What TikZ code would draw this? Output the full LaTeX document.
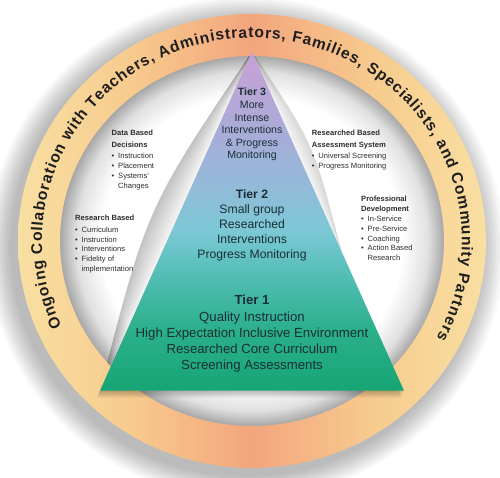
\documentclass[tikz,border=0pt]{standalone}
\usepackage{fontspec}
\setmainfont{Liberation Sans}
\usetikzlibrary{decorations.text}
\definecolor{ringY}{HTML}{F9DFA2}
\definecolor{ringY2}{HTML}{F7CB8E}
\definecolor{ringO}{HTML}{F3A57E}
\definecolor{ringtext}{HTML}{1E1E1E}
\definecolor{tiertext}{HTML}{1B2E36}
\definecolor{sidetext}{HTML}{2E2E2E}
\definecolor{g1}{HTML}{17A574}
\definecolor{g2}{HTML}{2BB08A}
\definecolor{g3}{HTML}{4DBCB0}
\definecolor{b1}{HTML}{7CC8D6}
\definecolor{b2}{HTML}{95B9D8}
\definecolor{p1}{HTML}{A8ACD8}
\definecolor{p2}{HTML}{C4A2D6}
\pgfdeclarehorizontalshading{ringshade}{100bp}{color(0bp)=(ringY); color(25bp)=(ringY); color(37bp)=(ringY2); color(50bp)=(ringO); color(63bp)=(ringY2); color(75bp)=(ringY); color(100bp)=(ringY)}
\pgfdeclareverticalshading{trishade}{100bp}{color(0bp)=(g1); color(25bp)=(g1); color(34bp)=(g2); color(41bp)=(g3); color(48.6bp)=(b1); color(56bp)=(b2); color(63bp)=(p1); color(73bp)=(p2); color(100bp)=(p2)}
\pgfdeclareradialshading{innershade}{\pgfpoint{0bp}{0bp}}{color(0bp)=(white); color(19.5bp)=(white); color(22.8bp)=(black!12); color(25bp)=(black!36); color(50bp)=(black!36)}
\newcommand\ringfnt{\color{ringtext}\fontsize{15.6}{15.6}\selectfont\bfseries}
\newcommand\bul{\makebox[6.5pt][l]{\textbullet}}
\tikzset{
  side/.style={inner sep=0pt, align=left, text=sidetext, font=\fontsize{7.6}{9.8}\selectfont},
  tierone/.style={inner sep=0pt, align=center, text=tiertext, font=\fontsize{13.2}{16.25}\selectfont},
  tiertwo/.style={inner sep=0pt, align=center, text=tiertext, font=\fontsize{12.2}{15}\selectfont},
  tierthree/.style={inner sep=0pt, align=center, text=tiertext, font=\fontsize{10.6}{12.6}\selectfont},
}
\begin{document}
\begin{tikzpicture}[x=1pt,y=1pt]
\useasboundingbox (0,0) rectangle (500,478);
\fill[white] (0,0) rectangle (500,478);
\coordinate (C) at (252,237);
\coordinate (S) at (246,230);
% outer soft shadow
\foreach \k [evaluate=\k as \rx using 234+2*\k, evaluate=\k as \ry using 227+2*\k] in {1,...,12}
  \fill[black,opacity=0.022] (S) ellipse[x radius=\rx, y radius=\ry];
% inner disk
\shade[shading=innershade] (C) ellipse[x radius=193, y radius=186];
% ring
\shade[shading=ringshade, even odd rule] (C) ellipse[x radius=234, y radius=227] (C) ellipse[x radius=192, y radius=185];
% ring text
\path[decorate, decoration={text along path, text align={fit to path},
  text={|\ringfnt|Ongoing Collaboration with Teachers, Administrators, Families, Specialists, and Community Partners}}]
  (C) ++(205:210 and 203) arc[start angle=205, end angle=-28.5, x radius=210, y radius=203];
% triangle corners
\coordinate (apex) at (252,426.3);
\coordinate (bl) at (100,87.3);
\coordinate (br) at (404,87.3);
\coordinate (P) at (341.1,228);
% fold bands
\begin{scope}
\clip (C) ellipse[x radius=192, y radius=185];
\foreach \d in {2,4,...,24}{
  \pgfmathsetmacro\ax{176-1.218*\d}\pgfmathsetmacro\ay{257.5+0.5429*\d}
  \pgfmathsetmacro\bx{176-1.218*(\d-2)}\pgfmathsetmacro\by{257.5+0.5429*(\d-2)}
  \pgfmathsetmacro\op{0.03+0.008*\d}
  \fill[black,opacity=\op] (apex) .. controls (\ax,\ay) .. (bl) .. controls (\bx,\by) .. (apex);
}
\foreach \d in {2,4,...,14}{
  \pgfmathsetmacro\ax{296.6+1.218*\d}\pgfmathsetmacro\ay{327.2+0.5429*\d}
  \pgfmathsetmacro\bx{296.6+1.218*(\d-2)}\pgfmathsetmacro\by{327.2+0.5429*(\d-2)}
  \pgfmathsetmacro\op{0.03+0.008*\d}
  \fill[black,opacity=\op] (apex) .. controls (\ax,\ay) .. (P) .. controls (\bx,\by) .. (apex);
}
\end{scope}
% triangle shadow
\foreach \s in {1,...,5}{
  \fill[black,opacity=0.05] ([shift={(-0.6*\s,-1.4*\s)}]apex) -- ([shift={(-0.6*\s,-1.4*\s)}]bl) -- ([shift={(-0.6*\s,-1.4*\s)}]br) -- cycle;
}
% triangle
\shade[shading=trishade] (apex) -- (bl) -- (br) -- cycle;
% tier texts
\node[tierthree] (t3) at (252,353.4) {\textbf{Tier 3}\\More\\Intense\\Interventions\\\& Progress\\Monitoring};
\node[tiertwo] (t2) at (252,252.7) {\textbf{Tier 2}\\Small group\\Researched\\Interventions\\Progress Monitoring};
\node[tierone] (t1) at (252,144) {\textbf{Tier 1}\\Quality Instruction\\High Expectation Inclusive Environment\\Researched Core Curriculum\\Screening Assessments};
% side texts
\node[side, anchor=north west] (dbd) at (111.5,347.8) {\textbf{Data Based}\\[2pt]\textbf{Decisions}\\[1.5pt]\bul Instruction\\\bul Placement\\\bul Systems'\\\hspace*{6.5pt}Changes};
\node[side, anchor=north west] (rb) at (75,262.8) {\textbf{Research Based}\\[1.5pt]\bul Curriculum\\\bul Instruction\\\bul Interventions\\\bul Fidelity of\\\hspace*{6.5pt}implementation};
\node[side, anchor=north west] (rbas) at (311.7,347.8) {\textbf{Researched Based}\\[2pt]\textbf{Assessment System}\\[1.5pt]\bul Universal Screening\\\bul Progress Monitoring};
\node[side, anchor=north west] (pd) at (361,281.8) {\textbf{Professional}\\\textbf{Development}\\\bul In-Service\\\bul Pre-Service\\\bul Coaching\\\bul Action Based\\\hspace*{6.5pt}Research};
\end{tikzpicture}
\end{document}
